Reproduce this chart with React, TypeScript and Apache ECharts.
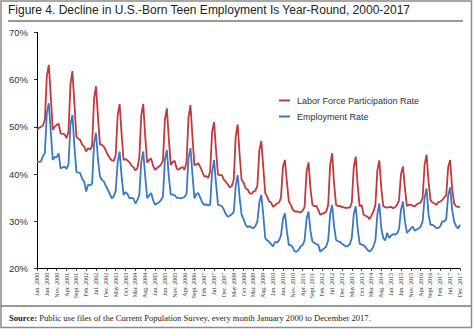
import React, { useEffect, useRef } from "react";
import * as echarts from "echarts";

// Month abbreviations and years used for the category axis
const monthAbbr = ["Jan.", "Feb.", "Mar.", "Apr.", "May", "Jun.", "Jul.", "Aug.", "Sept.", "Oct.", "Nov.", "Dec."];
const years = [2000, 2001, 2002, 2003, 2004, 2005, 2006, 2007, 2008, 2009, 2010, 2011, 2012, 2013, 2014, 2015, 2016, 2017];

// Monthly labor force participation rate of U.S.-born teens (%), Jan 2000 - Dec 2017
const laborForceRate = [
  49.3, 49.8, 50.0, 50.3, 51.5, 60.8, 63.1, 56.5, 49.4, 50.0, 50.4, 50.7,
  48.6, 48.5, 48.4, 47.6, 49.0, 59.0, 61.8, 55.0, 47.9, 47.5, 47.2, 46.2,
  45.8, 44.8, 45.5, 45.2, 46.0, 56.0, 58.6, 52.0, 46.3, 46.2, 45.8, 45.0,
  44.1, 43.4, 42.9, 42.8, 44.0, 52.5, 54.8, 48.5, 43.0, 43.2, 42.9, 42.5,
  41.8, 41.5, 40.8, 41.2, 43.5, 52.5, 54.8, 48.0, 42.4, 43.0, 43.3, 41.8,
  40.9, 41.3, 41.6, 42.0, 42.8, 51.5, 53.9, 47.5, 41.9, 42.6, 42.8, 41.2,
  40.9, 41.3, 41.5, 40.9, 42.5, 52.0, 54.6, 48.0, 41.9, 42.0, 42.3, 41.5,
  40.5, 39.5, 39.6, 39.2, 40.5, 49.0, 51.0, 45.0, 39.9, 39.8, 39.8, 38.8,
  38.4, 37.8, 37.2, 37.5, 38.8, 48.0, 50.5, 44.0, 38.8, 38.2, 37.0, 36.8,
  36.0, 35.8, 36.3, 36.5, 37.5, 45.0, 47.0, 41.5, 36.0, 35.2, 34.2, 34.0,
  33.1, 33.4, 33.8, 34.0, 35.0, 41.5, 43.0, 38.5, 34.2, 33.5, 32.5, 32.1,
  32.1, 32.0, 31.9, 32.3, 33.0, 40.5, 42.5, 37.0, 33.5, 33.2, 33.3, 32.4,
  31.4, 31.6, 31.8, 32.1, 33.5, 42.0, 44.4, 38.0, 33.5, 33.2, 33.3, 33.0,
  33.0, 32.8, 32.9, 32.9, 34.0, 41.5, 43.7, 37.5, 33.2, 33.5, 31.4, 31.2,
  31.0, 30.5, 31.2, 32.1, 33.5, 40.8, 42.9, 37.0, 33.2, 33.0, 32.9, 33.0,
  33.1, 32.8, 33.0, 33.5, 34.5, 40.0, 41.6, 37.0, 33.3, 33.5, 33.5, 33.3,
  33.2, 33.6, 33.8, 34.0, 35.0, 42.0, 44.1, 38.5, 34.5, 34.0, 33.8, 33.5,
  34.1, 34.2, 34.5, 35.1, 35.5, 41.5, 43.0, 37.0, 33.8, 33.2, 33.1, 33.0,
];

// Monthly employment rate of U.S.-born teens (%), Jan 2000 - Dec 2017
const employmentRate = [
  42.6, 42.6, 42.7, 43.8, 44.5, 53.0, 55.0, 49.0, 43.0, 43.6, 43.6, 44.4,
  41.2, 41.4, 41.6, 41.1, 42.0, 50.5, 52.5, 46.0, 40.5, 40.3, 40.2, 39.0,
  38.4, 36.3, 37.8, 37.6, 38.0, 46.5, 48.7, 43.0, 39.5, 38.8, 38.4, 37.5,
  36.7, 35.8, 34.9, 35.3, 36.5, 42.5, 44.8, 39.5, 35.6, 36.2, 35.8, 34.9,
  35.0, 34.9, 33.8, 34.5, 35.6, 42.5, 44.8, 39.5, 34.9, 35.5, 36.0, 34.5,
  33.5, 33.8, 34.0, 34.5, 35.2, 43.0, 45.1, 39.5, 35.6, 35.7, 35.5, 35.0,
  35.0, 34.9, 35.0, 35.2, 35.8, 43.5, 45.5, 40.0, 34.9, 35.8, 36.0, 35.0,
  34.0, 33.5, 33.6, 33.4, 33.5, 40.5, 43.0, 38.0, 33.5, 33.4, 33.2, 32.5,
  31.5, 31.0, 31.2, 31.5, 32.0, 37.5, 39.8, 35.0, 31.4, 30.5, 29.3, 28.8,
  29.0, 28.7, 28.6, 29.0, 30.0, 34.0, 35.6, 31.5, 26.5, 26.0, 25.7, 25.2,
  24.7, 25.7, 25.5, 26.0, 27.0, 30.5, 31.7, 28.0, 25.0, 25.0, 24.5, 23.6,
  23.6, 24.0, 24.7, 25.0, 26.0, 30.5, 32.1, 28.0, 25.7, 25.5, 25.2, 25.0,
  23.6, 24.0, 24.3, 24.7, 26.0, 31.5, 33.5, 29.0, 26.1, 25.8, 25.7, 25.3,
  25.0, 24.7, 24.8, 25.2, 26.5, 31.5, 33.2, 28.5, 25.3, 25.1, 25.0, 24.5,
  24.0, 23.6, 24.0, 24.7, 26.0, 31.5, 33.8, 28.5, 26.5, 26.0, 27.6, 26.5,
  27.0, 27.3, 27.2, 27.5, 28.3, 32.5, 34.2, 30.0, 27.6, 28.0, 28.5, 28.9,
  28.0, 28.3, 28.5, 28.9, 30.0, 35.0, 37.0, 31.5, 29.3, 29.3, 29.0, 28.6,
  28.6, 29.0, 30.0, 30.0, 30.5, 35.5, 37.2, 32.5, 30.0, 29.0, 28.5, 29.3,
];

const seriesNames = ["Labor Force Participation Rate", "Employment Rate"];
const titleText = "Figure 4. Decline in U.S.-Born Teen Employment Is Year-Round, 2000-2017";
const sourceLabel = "Source:";
const sourceText = " Public use files of the Current Population Survey, every month January 2000 to December 2017.";

const W = 474;
const H = 331;

export default function App() {
  const ref = useRef<HTMLDivElement>(null);

  useEffect(() => {
    if (!ref.current) return;
    const chart = echarts.init(ref.current, null, { renderer: "svg" });

    const months: string[] = [];
    years.forEach((y) => monthAbbr.forEach((m) => months.push(`${m} ${y}`)));

    const sans = "Liberation Sans, Arial, sans-serif";
    const serif = "Liberation Serif, Times New Roman, serif";

    chart.setOption({
      animation: false,
      backgroundColor: "#ffffff",
      grid: { left: 37, right: 14, top: 32.3, bottom: 62.3, containLabel: false },
      legend: {
        orient: "vertical",
        left: 274,
        top: 91,
        icon: "rect",
        itemWidth: 11,
        itemHeight: 2,
        itemGap: 7,
        textStyle: { fontFamily: sans, fontSize: 9, color: "#333", padding: [0, 0, 0, 2] },
        data: seriesNames,
      },
      xAxis: {
        type: "category",
        data: months,
        boundaryGap: false,
        axisLine: { lineStyle: { color: "#000", width: 1 } },
        axisTick: { show: true, interval: 4, length: 2, lineStyle: { color: "#333" } },
        axisLabel: {
          interval: 4,
          rotate: 90,
          margin: 4,
          fontFamily: serif,
          fontSize: 6,
          color: "#333",
        },
        splitLine: { show: false },
      },
      yAxis: {
        type: "value",
        min: 20,
        max: 70,
        interval: 10,
        axisLine: { show: true, lineStyle: { color: "#000", width: 1 } },
        axisTick: { show: true, length: 3, lineStyle: { color: "#333" } },
        axisLabel: { formatter: "{value}%", fontFamily: sans, fontSize: 9.5, color: "#333", margin: 9 },
        splitLine: { show: false },
      },
      series: [
        {
          name: seriesNames[0],
          type: "line",
          data: laborForceRate,
          showSymbol: false,
          symbol: "none",
          lineStyle: { color: "#c1393d", width: 1.8 },
          itemStyle: { color: "#c1393d" },
        },
        {
          name: seriesNames[1],
          type: "line",
          data: employmentRate,
          showSymbol: false,
          symbol: "none",
          lineStyle: { color: "#3a78c2", width: 1.8 },
          itemStyle: { color: "#3a78c2" },
        },
      ],
      graphic: [
        {
          type: "rect",
          shape: { x: 1, y: 1, width: 470.5, height: 326.5 },
          style: { fill: "none", stroke: "#8a8a8a", lineWidth: 1.5 },
          silent: true,
        },
        {
          type: "text",
          left: 8,
          top: 4,
          style: { text: titleText, fontFamily: sans, fontSize: 12, fill: "#222" },
        },
        {
          type: "line",
          shape: { x1: 8, y1: 21, x2: 463, y2: 21 },
          style: { stroke: "#333", lineWidth: 1 },
        },
        {
          type: "line",
          shape: { x1: 1, y1: 306, x2: 471, y2: 306 },
          style: { stroke: "#333", lineWidth: 1 },
        },
        {
          type: "text",
          left: 9,
          top: 313,
          style: {
            text: `{b|${sourceLabel}}${sourceText}`,
            fontFamily: serif,
            fontSize: 8.6,
            fill: "#222",
            rich: { b: { fontFamily: serif, fontSize: 8.6, fontWeight: "bold", fill: "#222" } },
          },
        },
      ],
    });

    return () => chart.dispose();
  }, []);

  return (
    <div
      ref={ref}
      style={{ position: "fixed", left: 0, top: 0, width: W, height: H, background: "#fff" }}
    />
  );
}
